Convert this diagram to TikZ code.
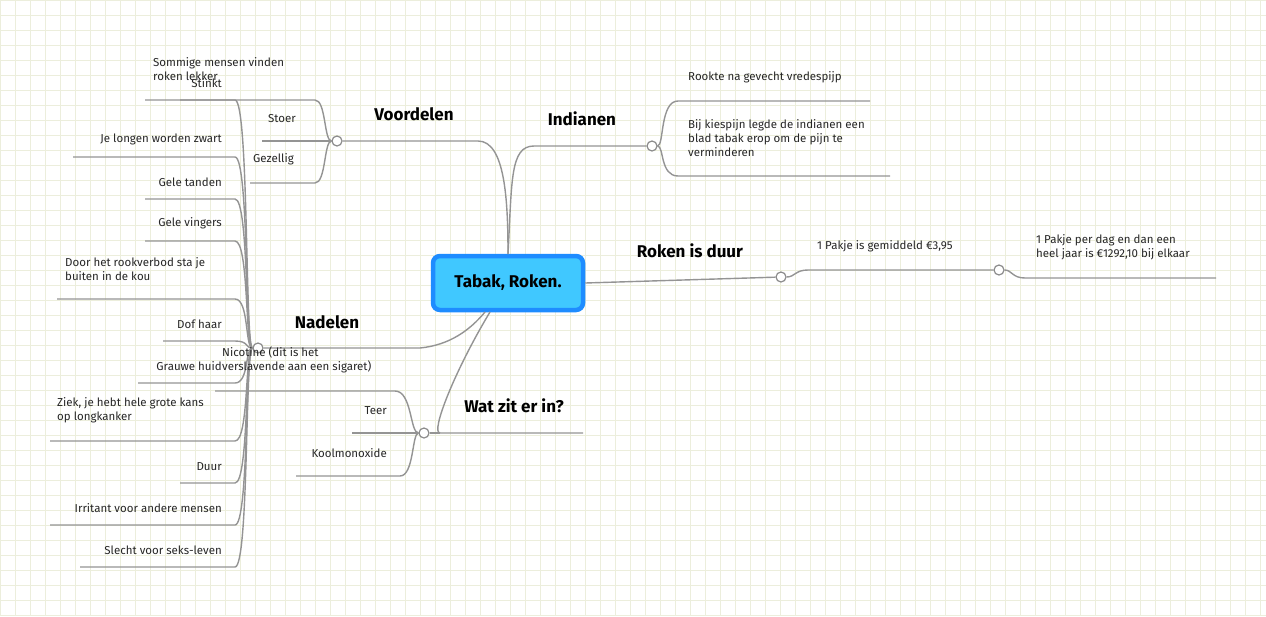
\documentclass[tikz,border=0pt]{standalone}
\usepackage{fontspec}
\setmainfont{Fira Sans}
\definecolor{cfill}{HTML}{40C8FF}
\definecolor{cbord}{HTML}{1E8CFF}
\definecolor{gridc}{HTML}{ECEEDC}
\begin{document}
\begin{tikzpicture}[x=1pt,y=-1pt,
 ln/.style={draw=black!42,line width=1.4pt},
 dot/.style={circle,draw=black!45,fill=white,line width=1.2pt,minimum size=10pt,inner sep=0},
 leaf/.style={font=\fontsize{11.5}{14}\selectfont,text=black!85,inner sep=1pt,align=left},
 head/.style={font=\fontsize{17}{20}\selectfont\bfseries,inner sep=1pt}]
\useasboundingbox (0,0) rectangle (1266,616);
\fill[white] (0,0) rectangle (1266,616);
\foreach \i in {0,...,84} \draw[gridc,line width=0.7pt] (\i*15,0) -- (\i*15,616);
\foreach \i in {0,...,41} \draw[gridc,line width=0.7pt] (0,\i*15) -- (1266,\i*15);
% center
\node[draw=cbord,line width=4.5pt,fill=cfill,rounded corners=7pt,minimum width=150pt,minimum height=54pt,font=\fontsize{17}{20}\selectfont\bfseries] (c) at (508,283) {Tabak, Roken.};
% Voordelen
\node[dot] (vd) at (337,141) {};
\node[head,anchor=south] (vdl) at (414,122) {Voordelen};
\coordinate (vde) at (478,141);
\draw[ln] (vd) -- (vde) .. controls (505,141) and (508,200) .. (508,254);
\foreach \y/\xa [count=\i] in {100/145,141/262,183/250}{
 \coordinate (va\i) at (\xa,\y);
 \coordinate (vb\i) at (315,\y);
 \draw[ln] (va\i) -- (vb\i) .. controls (326,\y) and (324,141) .. (vd);
}
\node[leaf,anchor=south west] (t1) at (152,82) {Sommige mensen vinden\\roken lekker};
\node[leaf,anchor=south west] (t2) at (267,124) {Stoer};
\node[leaf,anchor=south west] (t3) at (252,166) {Gezellig};
% Indianen
\node[dot] (ind) at (652,146) {};
\node[head,anchor=south] (indl) at (582,127) {Indianen};
\coordinate (inde) at (534,146);
\draw[ln] (508,254) .. controls (512,180) and (510,146) .. (inde) -- (ind);
\coordinate (ia) at (870,101); \coordinate (ib) at (890,176);
\draw[ln] (ind) .. controls (664,146) and (660,101) .. (678,101) -- (ia);
\draw[ln] (ind) .. controls (664,146) and (660,176) .. (678,176) -- (ib);
\node[leaf,anchor=south west] at (687,84) {Rookte na gevecht vredespijp};
\node[leaf,anchor=south west] at (687,158) {Bij kiespijn legde de indianen een\\blad tabak erop om de pijn te\\verminderen};
% Roken is duur
\node[dot] (rd) at (781,277) {};
\node[head,anchor=south] at (690,259) {Roken is duur};
\draw[ln] (c.east) -- (rd);
\node[dot] (rd2) at (999,270) {};
\draw[ln] (rd) .. controls (795,277) and (795,270) .. (808,270) -- (rd2);
\coordinate (rd3) at (1216,278);
\draw[ln] (rd2) .. controls (1012,270) and (1012,278) .. (1025,278) -- (rd3);
\node[leaf,anchor=south west] at (816,253) {1 Pakje is gemiddeld €3,95};
\node[leaf,anchor=south west] at (1035,261) {1 Pakje per dag en dan een\\heel jaar is €1292,10 bij elkaar};
% Nadelen
\node[dot] (nd) at (258,348) {};
\node[head,anchor=south] at (327,330) {Nadelen};
\draw[ln] (nd) -- (420,348) .. controls (450,345) and (470,330) .. (485,312);
\foreach \y/\xa [count=\i] in {100/180,157/73,199/145,241/145,299/57,341/163,383/138,441/50,483/180,525/50,567/80}{
 \coordinate (na\i) at (\xa,\y);
 \coordinate (nb\i) at (235,\y);
 \draw[ln] (na\i) -- (nb\i) .. controls (249,\y) and (245,348) .. (nd);
}
\foreach \y/\t in {100/Stinkt,157/Je longen worden zwart,199/Gele tanden,241/Gele vingers,341/Dof haar,383/Grauwe huid,483/Duur,525/Irritant voor andere mensen,567/Slecht voor seks-leven}
 \node[leaf,anchor=south east] at (223,\y-11) {\t};
\node[leaf,anchor=south west] at (64,282) {Door het rookverbod sta je\\buiten in de kou};
\node[leaf,anchor=south west] at (56,424) {Ziek, je hebt hele grote kans\\op longkanker};
% Wat zit er in
\node[dot] (wz) at (424,433) {};
\node[head,anchor=south] at (514,414) {Wat zit er in?};
\coordinate (wze) at (583,433);
\draw[ln] (490,312) .. controls (455,370) and (430,433) .. (440,433) -- (wze);
\draw[ln] (wz) -- (440,433);
\coordinate (wa) at (215,391); \coordinate (wb) at (352,433); \coordinate (wc) at (296,476);
\draw[ln] (wa) -- (395,391) .. controls (412,391) and (410,433) .. (wz);
\draw[ln] (wb) -- (wz);
\draw[ln] (wc) -- (400,476) .. controls (414,476) and (412,433) .. (wz);
\node[leaf,anchor=south west] at (221,374) {Nicotine (dit is het\\verslavende aan een sigaret)};
\node[leaf,anchor=south east] at (388,416) {Teer};
\node[leaf,anchor=south east] at (388,459) {Koolmonoxide};
\end{tikzpicture}
\end{document}
